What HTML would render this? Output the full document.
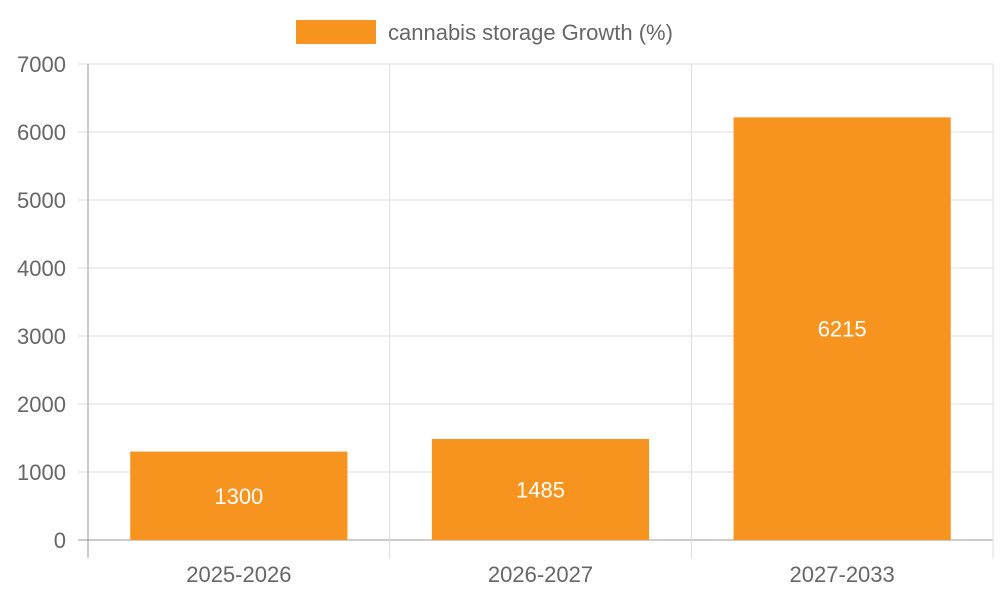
<!DOCTYPE html>
<html><head><meta charset="utf-8"><style>
html,body{margin:0;padding:0;background:#fff;width:1000px;height:600px;overflow:hidden}
svg{display:block;font-family:"Liberation Sans",sans-serif}
</style></head><body>
<svg id="chart" width="1000" height="600">
<g>
<rect x="296" y="20" width="80" height="24" fill="#f7941f"/>
<text x="388" y="40" font-size="22" fill="#666">cannabis storage Growth (%)</text>
</g>
<g id="grid"></g><g id="bars"></g><g id="labels"></g>
</svg>
<script>
const categories=["2025-2026","2026-2027","2027-2033"];
const values=[1300,1485,6215];
const yTicks=[0,1000,2000,3000,4000,5000,6000,7000];
const NS="http://www.w3.org/2000/svg";
const L=88,R=993,T=64,B=540,yMax=7000;
const y=v=>B-(v/yMax)*(B-T);
const bw=(R-L)/categories.length;
const x=i=>L+i*bw;
function mk(tag,at,parent){const e=document.createElementNS(NS,tag);for(const k in at)e.setAttribute(k,at[k]);document.getElementById(parent).appendChild(e);return e;}
yTicks.forEach(t=>{
 const ln=mk('line',{x1:L-10,x2:R,y1:y(t),y2:y(t),stroke:t===0?'#999':'#ddd','stroke-width':1},'grid');
 
 
 const tx=mk('text',{x:L-22,y:y(t)+8,'text-anchor':'end','font-size':22,fill:'#666'},'grid');
 tx.textContent=t;
 
 
});
for(let i=0;i<=categories.length;i++){
 const ln=mk('line',{x1:x(i),x2:x(i),y1:T,y2:B+18,stroke:i===0?'#999':'#ddd','stroke-width':1},'grid');
 
 
}
categories.forEach((c,i)=>{
 const cx=x(i)+bw/2,w=bw*0.72;
 const r=mk('rect',{x:cx-w/2,y:y(values[i]),width:w,height:B-y(values[i]),fill:'#f7941f'},'bars');
 
 
 const v=mk('text',{x:cx,y:(y(values[i])+B)/2+8,'text-anchor':'middle','font-size':22,fill:'#fff'},'labels');
 v.textContent=values[i];
 
 
 const t=mk('text',{x:cx,y:582,'text-anchor':'middle','font-size':22,fill:'#666'},'labels');
 t.textContent=c;
 
 
});
</script>
</body></html>
